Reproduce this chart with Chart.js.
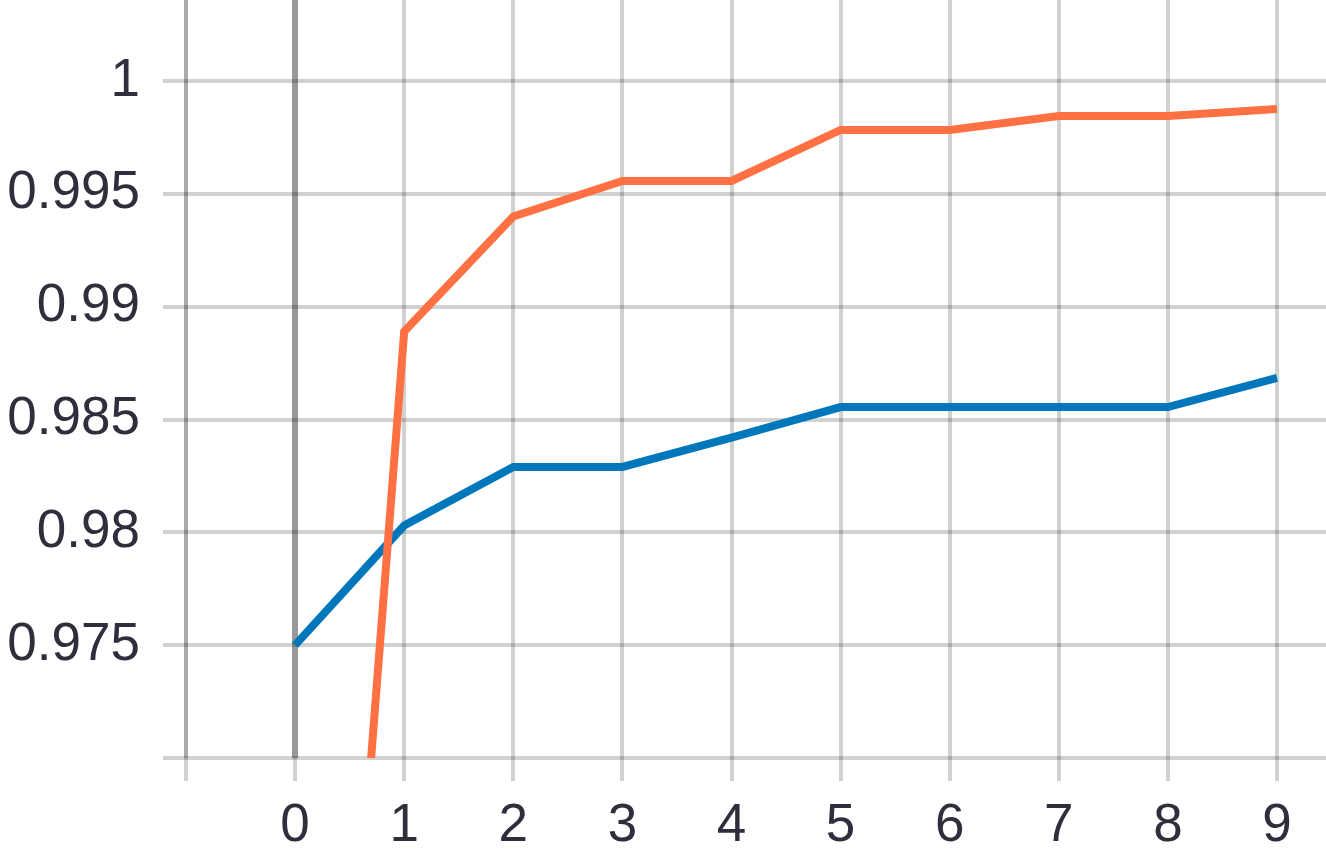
<!DOCTYPE html>
<html>
<head>
<meta charset="utf-8">
<script src="https://cdn.jsdelivr.net/npm/chart.js@4.4.1/dist/chart.umd.min.js"></script>
<style>
html,body{margin:0;padding:0;background:#fff;}
#wrap{width:1326px;height:853px;}
</style>
</head>
<body>
<div id="wrap"><canvas id="c" width="1326" height="853"></canvas></div>
<script>
const epochs = [0, 1, 2, 3, 4, 5, 6, 7, 8, 9];
const trainAcc = [0.9265, 0.9889, 0.9940, 0.99557, 0.99557, 0.99783, 0.99783, 0.99845, 0.99845, 0.99876];
const valAcc = [0.975, 0.9803, 0.9829, 0.9829, 0.9842, 0.98555, 0.98555, 0.98555, 0.98555, 0.98684];
const xTicks = [-1, 0, 1, 2, 3, 4, 5, 6, 7, 8, 9];
const xTickLabels = ['', '0', '1', '2', '3', '4', '5', '6', '7', '8', '9'];
const yTicks = [0.97, 0.975, 0.98, 0.985, 0.99, 0.995, 1];
const yTickLabels = ['', '0.975', '0.98', '0.985', '0.99', '0.995', '1'];

const toPts = arr => arr.map((v, i) => ({x: epochs[i], y: v}));
const FONT = {family: '"Liberation Sans", Arial, sans-serif', size: 53};
const LABEL_COLOR = '#2e2e3c';
const GRID = 'rgba(0,0,0,0.18)';

function zeroPad(s) { s.paddingTop = 0; s.paddingBottom = 0; s.paddingLeft = 0; s.paddingRight = 0; }

new Chart(document.getElementById('c'), {
  type: 'line',
  data: {
    datasets: [
      {data: toPts(trainAcc), borderColor: '#ff7043', borderWidth: 8, pointRadius: 0, tension: 0, clip: 0, fill: false},
      {data: toPts(valAcc), borderColor: '#0077bb', borderWidth: 8, pointRadius: 0, tension: 0, clip: 0, fill: false}
    ]
  },
  options: {
    responsive: false,
    devicePixelRatio: 1,
    animation: false,
    layout: {padding: 0},
    plugins: {legend: {display: false}, tooltip: {enabled: false}},
    scales: {
      x: {
        type: 'linear',
        min: -1,
        max: 9.449,
        afterBuildTicks: s => { s.ticks = xTicks.map(v => ({value: v})); },
        afterFit: s => { s.height = 95; zeroPad(s); },
        border: {display: false},
        grid: {
          color: c => c.tick && c.tick.value === 0 ? '#999999' : (c.tick && c.tick.value === -1 ? '#aaaaaa' : GRID),
          lineWidth: c => c.tick && c.tick.value === 0 ? 6 : 4,
          tickColor: GRID,
          tickWidth: 4,
          tickLength: 23,
          drawTicks: true
        },
        ticks: {
          autoSkip: false,
          maxRotation: 0,
          padding: 14,
          color: LABEL_COLOR,
          font: FONT,
          callback: (v, i) => xTickLabels[xTicks.indexOf(v)]
        }
      },
      y: {
        type: 'linear',
        min: 0.97,
        max: 1.00359,
        afterBuildTicks: s => { s.ticks = yTicks.map(v => ({value: v})); },
        afterFit: s => { s.width = 186; zeroPad(s); },
        border: {display: false},
        grid: {
          color: GRID,
          lineWidth: 4,
          tickColor: GRID,
          tickWidth: 4,
          tickLength: 23,
          drawTicks: true
        },
        ticks: {
          autoSkip: false,
          padding: 23,
          color: LABEL_COLOR,
          font: FONT,
          callback: (v) => yTickLabels[yTicks.findIndex(t => Math.abs(t - v) < 1e-9)]
        }
      }
    }
  }
});
</script>
</body>
</html>
